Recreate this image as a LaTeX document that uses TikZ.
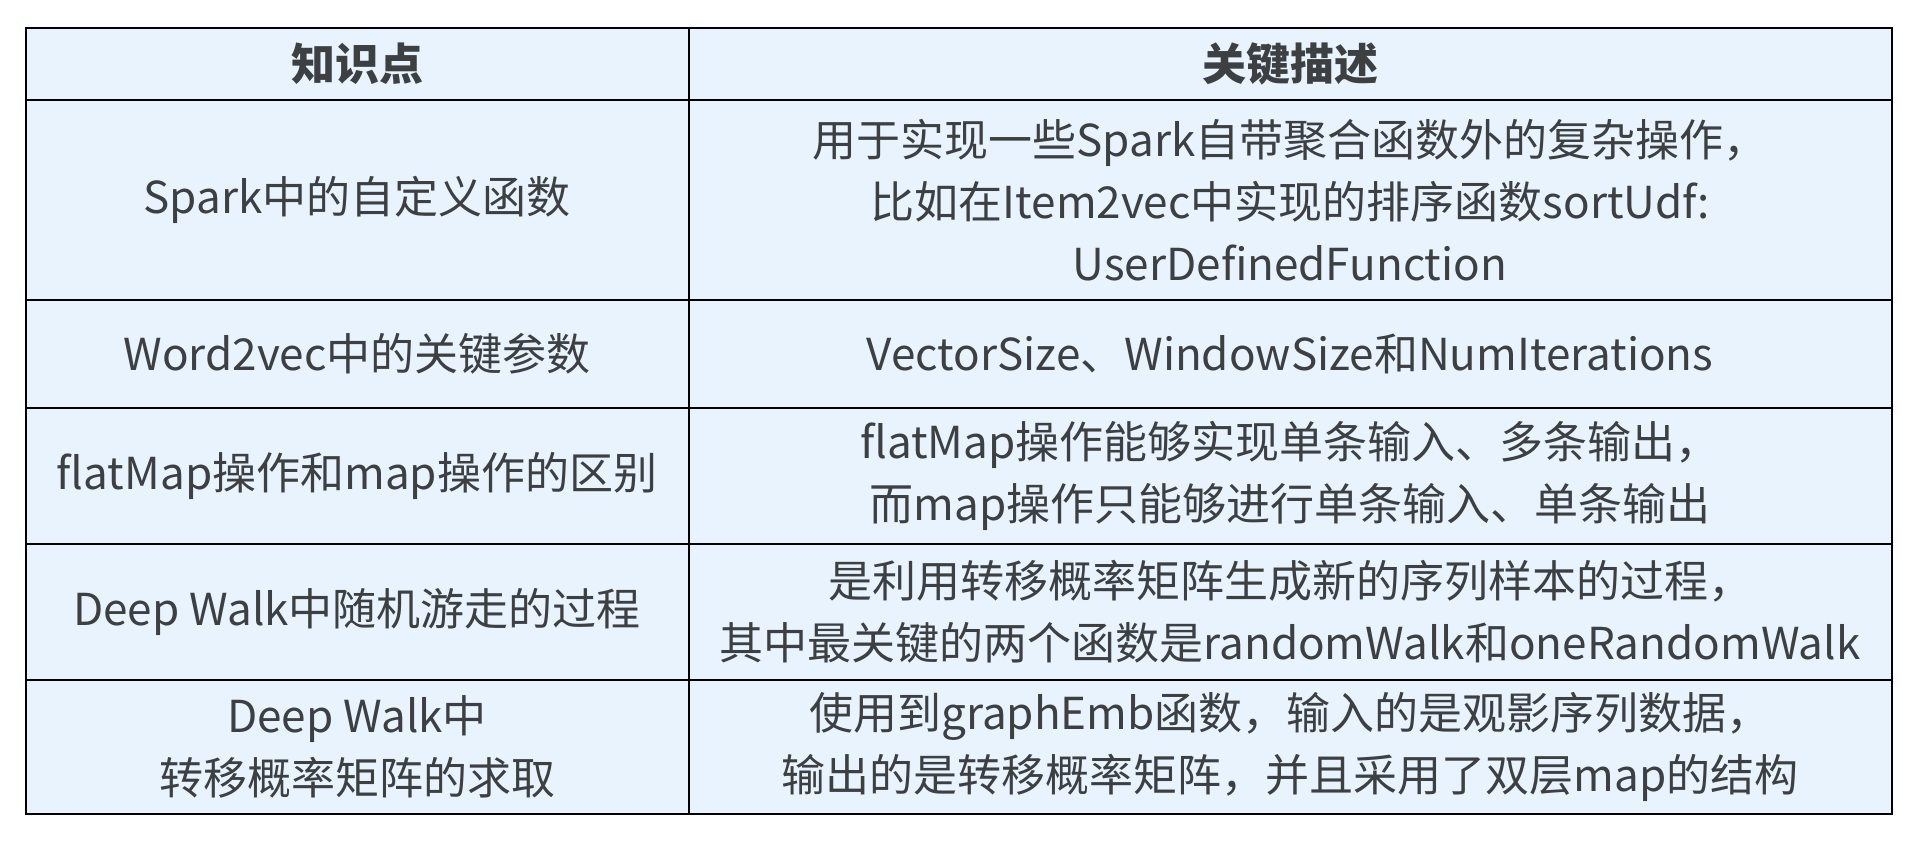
\documentclass[tikz,border=0pt]{standalone}
\usepackage{fontspec}
\newfontfamily\cjk{Noto Sans CJK SC}
\definecolor{cellbg}{HTML}{E8F3FD}
\definecolor{txt}{HTML}{3C4043}
\begin{document}
\begin{tikzpicture}[x=1pt,y=-1pt,
  cell/.style={font=\cjk\fontsize{44}{62}\selectfont,text=txt,align=center,inner sep=0pt},
  head/.style={cell,font=\cjk\bfseries\fontsize{44}{62}\selectfont}]
\useasboundingbox (0,0) rectangle (1920,847);
\fill[cellbg] (26,28) rectangle (1892,814);
\draw[line width=2.2pt] (26,28) rectangle (1892,814);
\foreach \y in {100,300,408,544,680} \draw[line width=2.2pt] (26,\y) -- (1892,\y);
\draw[line width=2.2pt] (689,28) -- (689,814);
\node[head] (h1) at (357,64) {知识点};
\node[head] (h2) at (1290,64) {关键描述};
\node[cell] (a1) at (357,200) {Spark中的自定义函数};
\node[cell] (b1) at (1290,200) {用于实现一些Spark自带聚合函数外的复杂操作，\\比如在Item2vec中实现的排序函数sortUdf:\\UserDefinedFunction};
\node[cell] (a2) at (357,354) {Word2vec中的关键参数};
\node[cell] (b2) at (1290,354) {VectorSize、WindowSize和NumIterations};
\node[cell] (a3) at (357,476) {flatMap操作和map操作的区别};
\node[cell] (b3) at (1290,476) {flatMap操作能够实现单条输入、多条输出，\\而map操作只能够进行单条输入、单条输出};
\node[cell] (a4) at (357,612) {Deep Walk中随机游走的过程};
\node[cell] (b4) at (1290,612) {是利用转移概率矩阵生成新的序列样本的过程，\\其中最关键的两个函数是randomWalk和oneRandomWalk};
\node[cell] (a5) at (357,747) {Deep Walk中\\转移概率矩阵的求取};
\node[cell] (b5) at (1290,747) {使用到graphEmb函数，输入的是观影序列数据，\\输出的是转移概率矩阵，并且采用了双层map的结构};
\end{tikzpicture}
\end{document}
